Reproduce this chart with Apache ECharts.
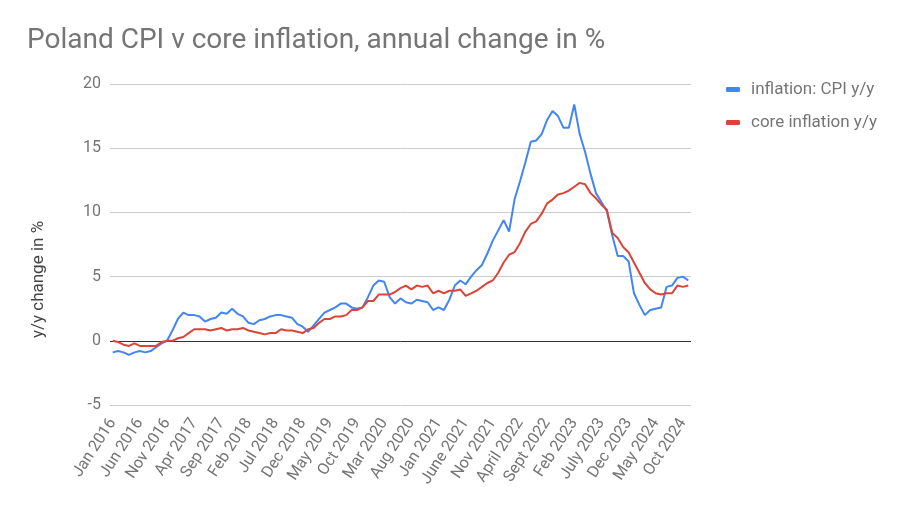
<!DOCTYPE html>
<html>
<head>
<meta charset="utf-8">
<script src="https://cdn.jsdelivr.net/npm/echarts@6/dist/echarts.min.js"></script>
<style>
html,body{margin:0;padding:0;background:#fff;}
#chart{width:900px;height:510px;}
</style>
</head>
<body>
<div id="chart"></div>
<script>
var monthNames = ['Jan','Feb','Mar','Apr','May','Jun','Jul','Aug','Sep','Oct','Nov','Dec'];
var years = [2016,2017,2018,2019,2020,2021,2022,2023,2024];
var lastMonthIndex2024 = 10; // Nov 2024
var labelOverrides = {'Jun 2021':'June 2021','Apr 2022':'April 2022','Sep 2022':'Sept 2022','Jul 2023':'July 2023'};

var cpi = [
  -0.9,-0.8,-0.9,-1.1,-0.9,-0.8,-0.9,-0.8,-0.5,-0.2,0.0,0.8,
  1.7,2.2,2.0,2.0,1.9,1.5,1.7,1.8,2.2,2.1,2.5,2.1,
  1.9,1.4,1.3,1.6,1.7,1.9,2.0,2.0,1.9,1.8,1.3,1.1,
  0.7,1.2,1.7,2.2,2.4,2.6,2.9,2.9,2.6,2.5,2.6,3.4,
  4.3,4.7,4.6,3.4,2.9,3.3,3.0,2.9,3.2,3.1,3.0,2.4,
  2.6,2.4,3.2,4.3,4.7,4.4,5.0,5.5,5.9,6.8,7.8,8.6,
  9.4,8.5,11.0,12.4,13.9,15.5,15.6,16.1,17.2,17.9,17.5,16.6,
  16.6,18.4,16.1,14.7,13.0,11.5,10.8,10.1,8.2,6.6,6.6,6.2,
  3.7,2.8,2.0,2.4,2.5,2.6,4.2,4.3,4.9,5.0,4.7
];
var core = [
  0.0,-0.1,-0.3,-0.4,-0.2,-0.4,-0.4,-0.4,-0.4,-0.1,0.0,0.0,
  0.2,0.3,0.6,0.9,0.9,0.9,0.8,0.9,1.0,0.8,0.9,0.9,
  1.0,0.8,0.7,0.6,0.5,0.6,0.6,0.9,0.8,0.8,0.7,0.6,
  0.9,1.0,1.4,1.7,1.7,1.9,1.9,2.0,2.4,2.4,2.6,3.1,
  3.1,3.6,3.6,3.6,3.8,4.1,4.3,4.0,4.3,4.2,4.3,3.7,
  3.9,3.7,3.9,3.9,4.0,3.5,3.7,3.9,4.2,4.5,4.7,5.3,
  6.1,6.7,6.9,7.6,8.5,9.1,9.3,9.9,10.7,11.0,11.4,11.5,
  11.7,12.0,12.3,12.2,11.5,11.1,10.6,10.2,8.4,8.0,7.3,6.9,
  6.1,5.3,4.5,4.0,3.7,3.6,3.7,3.7,4.3,4.2,4.3
];
var yTicks = [-5,0,5,10,15,20];

var categories = [];
years.forEach(function(y){
  var last = (y === 2024) ? lastMonthIndex2024 : 11;
  for (var m = 0; m <= last; m++) {
    var s = monthNames[m] + ' ' + y;
    categories.push(labelOverrides[s] || s);
  }
});

var gray = '#757575';
var chart = echarts.init(document.getElementById('chart'));
chart.setOption({
  animation: false,
  backgroundColor: '#fff',
  textStyle: {fontFamily: 'Roboto'},
  title: {
    text: 'Poland CPI v core inflation, annual change in %',
    left: 22, top: 22,
    textStyle: {fontFamily: 'Roboto', fontSize: 28, fontWeight: 'normal', color: gray}
  },
  legend: {
    orient: 'vertical',
    left: 721, top: 76,
    itemWidth: 14, itemHeight: 5, itemGap: 16,
    icon: 'roundRect',
    textStyle: {fontFamily: 'Roboto', fontSize: 17, color: gray, padding: [0,0,0,6]},
    data: ['inflation: CPI y/y', 'core inflation y/y']
  },
  grid: {left: 110, right: 209, top: 84, bottom: 105},
  xAxis: {
    type: 'category',
    data: categories,
    boundaryGap: true,
    axisLine: {show: false},
    axisTick: {show: false},
    axisLabel: {interval: 4, rotate: 57, color: gray, fontSize: 16, margin: 15, fontFamily: 'Roboto'}
  },
  yAxis: {
    type: 'value',
    min: yTicks[0], max: yTicks[yTicks.length-1], interval: 5,
    name: 'y/y change in %',
    nameLocation: 'middle',
    nameGap: 63,
    nameTextStyle: {fontFamily: 'Roboto', fontSize: 17, color: '#444', padding: [0, 70, 0, 0]},
    axisLine: {show: false},
    axisTick: {show: false},
    axisLabel: {color: gray, fontSize: 16, margin: 9, fontFamily: 'Roboto'},
    splitLine: {lineStyle: {color: yTicks.map(function(t){ return t === 0 ? '#333' : '#cccccc'; }), width: 1}}
  },
  series: [
    {name: 'inflation: CPI y/y', type: 'line', data: cpi, symbol: 'none', smooth: false,
     lineStyle: {width: 2, color: '#4285f4'}, itemStyle: {color: '#4285f4'}},
    {name: 'core inflation y/y', type: 'line', data: core, symbol: 'none', smooth: false,
     lineStyle: {width: 2, color: '#db4437'}, itemStyle: {color: '#db4437'}}
  ]
});
</script>
</body>
</html>
